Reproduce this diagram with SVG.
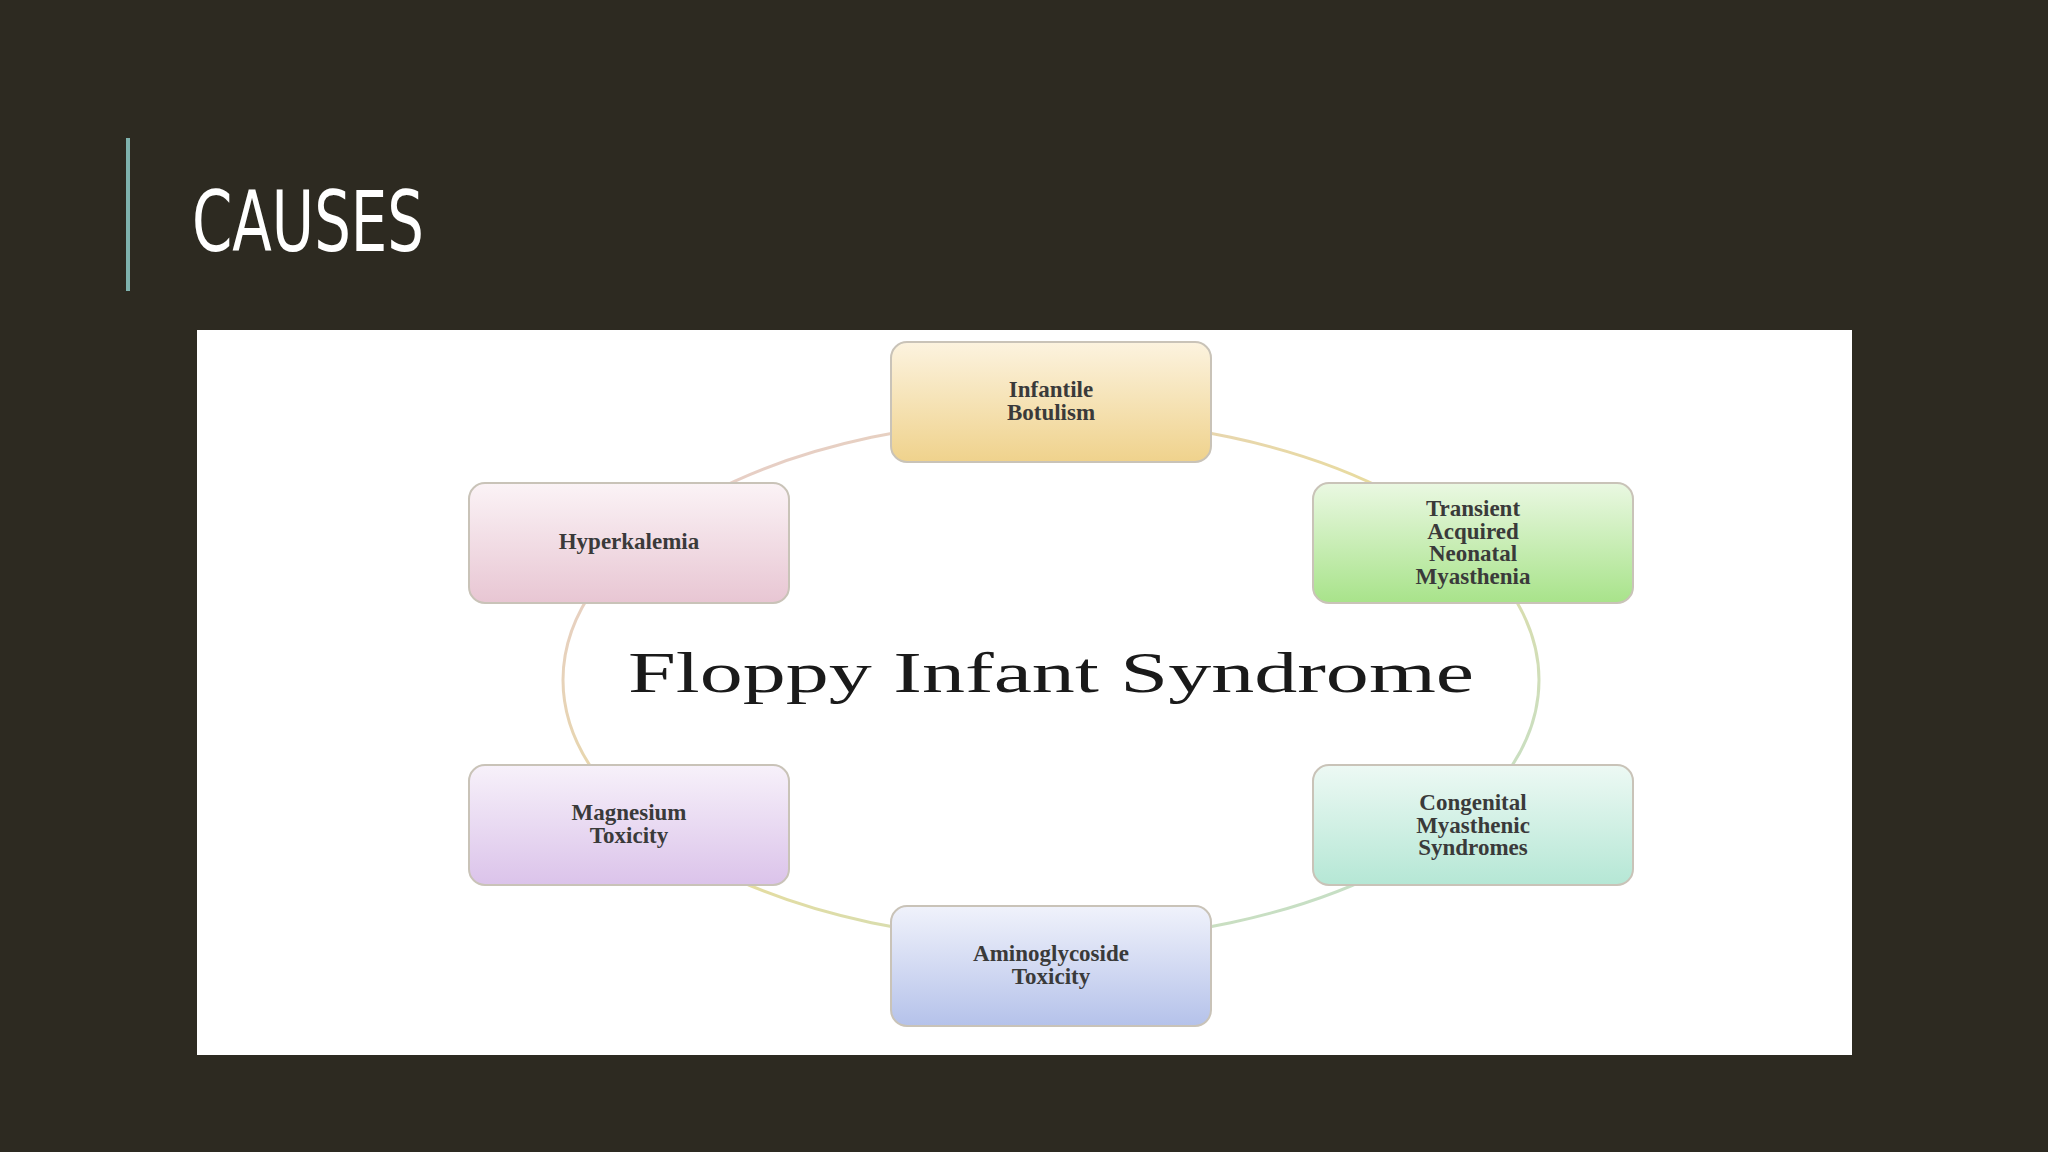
<svg xmlns="http://www.w3.org/2000/svg" width="2048" height="1152" viewBox="0 0 2048 1152">
<defs>
<linearGradient id="gY" x1="0" y1="0" x2="0" y2="1"><stop offset="0" stop-color="#fcf3df"/><stop offset="1" stop-color="#efd28c"/></linearGradient>
<linearGradient id="gG" x1="0" y1="0" x2="0" y2="1"><stop offset="0" stop-color="#eaf8e2"/><stop offset="1" stop-color="#a8e38a"/></linearGradient>
<linearGradient id="gP" x1="0" y1="0" x2="0" y2="1"><stop offset="0" stop-color="#fbf3f6"/><stop offset="1" stop-color="#e8c6d3"/></linearGradient>
<linearGradient id="gL" x1="0" y1="0" x2="0" y2="1"><stop offset="0" stop-color="#f7f1fa"/><stop offset="1" stop-color="#dbc3ea"/></linearGradient>
<linearGradient id="gT" x1="0" y1="0" x2="0" y2="1"><stop offset="0" stop-color="#edf9f4"/><stop offset="1" stop-color="#b5e7d5"/></linearGradient>
<linearGradient id="gB" x1="0" y1="0" x2="0" y2="1"><stop offset="0" stop-color="#f0f2fb"/><stop offset="1" stop-color="#b5c2ea"/></linearGradient>
<linearGradient id="gE" x1="0" y1="0" x2="1" y2="1"><stop offset="0" stop-color="#e6c9d6"/><stop offset="0.5" stop-color="#e8dc9c"/><stop offset="1" stop-color="#b8e0d6"/></linearGradient>
</defs>
<style>
.b{stroke:#c9c3b8;stroke-width:2}
.t{font-family:"Liberation Serif",serif;font-weight:bold;font-size:23px;fill:#3a3a3a;text-anchor:middle}
</style>
<rect width="2048" height="1152" fill="#2d2a21"/>
<rect x="126" y="138" width="4" height="153" fill="#7fb2ad"/>
<text x="192" y="251" font-family="DejaVu Sans Condensed, Liberation Sans, sans-serif" font-size="84" fill="#ffffff" textLength="232" lengthAdjust="spacingAndGlyphs">CAUSES</text>
<rect x="197" y="330" width="1655" height="725" fill="#ffffff"/>
<g id="connectors"><ellipse cx="1051" cy="680" rx="488" ry="261" fill="none" stroke="url(#gE)" stroke-width="3"/></g>
<text x="1051" y="692" font-family="Liberation Serif, serif" font-size="56" fill="#1a1a1a" text-anchor="middle" textLength="846" lengthAdjust="spacingAndGlyphs">Floppy Infant Syndrome</text>
<g id="n1"><rect class="b" x="891" y="342" width="320" height="120" rx="16" fill="url(#gY)"/><text class="t" x="1051" y="397">Infantile</text><text class="t" x="1051" y="420">Botulism</text></g>
<g id="n2"><rect class="b" x="1313" y="483" width="320" height="120" rx="16" fill="url(#gG)"/><text class="t" x="1473" y="516">Transient</text><text class="t" x="1473" y="539">Acquired</text><text class="t" x="1473" y="561">Neonatal</text><text class="t" x="1473" y="584">Myasthenia</text></g>
<g id="n3"><rect class="b" x="1313" y="765" width="320" height="120" rx="16" fill="url(#gT)"/><text class="t" x="1473" y="810">Congenital</text><text class="t" x="1473" y="833">Myasthenic</text><text class="t" x="1473" y="855">Syndromes</text></g>
<g id="n4"><rect class="b" x="891" y="906" width="320" height="120" rx="16" fill="url(#gB)"/><text class="t" x="1051" y="961">Aminoglycoside</text><text class="t" x="1051" y="984">Toxicity</text></g>
<g id="n5"><rect class="b" x="469" y="765" width="320" height="120" rx="16" fill="url(#gL)"/><text class="t" x="629" y="820">Magnesium</text><text class="t" x="629" y="843">Toxicity</text></g>
<g id="n6"><rect class="b" x="469" y="483" width="320" height="120" rx="16" fill="url(#gP)"/><text class="t" x="629" y="549">Hyperkalemia</text></g>
</svg>
